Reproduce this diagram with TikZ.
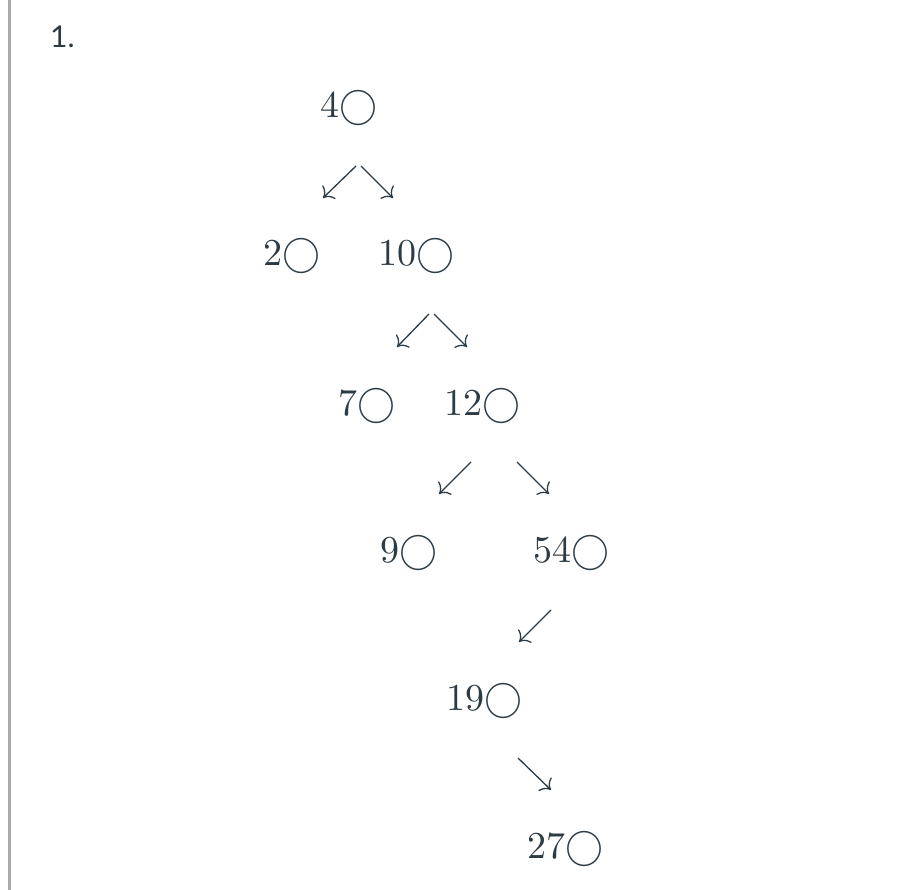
\RequirePackage{fix-cm}
\documentclass[tikz,border=0pt]{standalone}
\usepackage{fontspec}
\newfontfamily\labelfont{Lato}
\newfontfamily\numfont{lmroman10-regular.otf}
\usetikzlibrary{arrows.meta}
\definecolor{ink}{RGB}{45,59,69}
\definecolor{rule}{RGB}{170,170,170}
\DeclareMathSizes{38}{38}{28}{20}
\begin{document}
\begin{tikzpicture}[x=1pt,y=-1pt,
  num/.style={anchor=base west,inner sep=0pt,text=ink,font=\numfont\fontsize{38}{40}\selectfont},
  arr/.style={draw=ink,line width=1.3pt,-{Computer Modern Rightarrow[scale=2]}}]
\useasboundingbox (0,0) rectangle (918,890);
\fill[rule] (8,0) rectangle (10.5,890);
\node[anchor=base west,inner sep=0pt,text=ink,font=\labelfont\fontsize{30}{32}\selectfont] (lbl) at (50,48) {1.};
\node[num] (n4) at (320,118) {4$\bigcirc$};
\node[num] (n2) at (263,266) {2$\bigcirc$};
\node[num] (n10) at (378,266) {10$\bigcirc$};
\node[num] (n7) at (338,415) {7$\bigcirc$};
\node[num] (n12) at (444,415) {12$\bigcirc$};
\node[num] (n9) at (380,562) {9$\bigcirc$};
\node[num] (n54) at (533,562) {54$\bigcirc$};
\node[num] (n19) at (446,710) {19$\bigcirc$};
\node[num] (n27) at (527,858) {27$\bigcirc$};
\coordinate (a1s) at (356,166); \coordinate (a1e) at (323,198);
\coordinate (a2s) at (361,166); \coordinate (a2e) at (393,198);
\coordinate (a3s) at (429,314); \coordinate (a3e) at (397,347);
\coordinate (a4s) at (434,314); \coordinate (a4e) at (467,347);
\coordinate (a5s) at (471,462); \coordinate (a5e) at (439,494);
\coordinate (a6s) at (517,462); \coordinate (a6e) at (549,494);
\coordinate (a7s) at (551,610); \coordinate (a7e) at (519,642);
\coordinate (a8s) at (518,758); \coordinate (a8e) at (551,790);
\foreach \i in {1,...,8} \draw[arr] (a\i s) -- (a\i e);
\end{tikzpicture}
\end{document}
